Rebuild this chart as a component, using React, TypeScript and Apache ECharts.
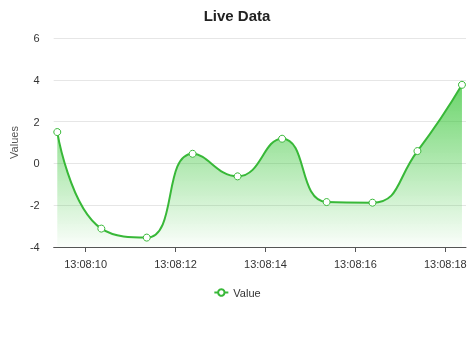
import React, { useEffect, useRef } from "react";
import * as echarts from "echarts";

// seconds after 13:08:00 for each sample
const sampleSeconds = [9.37, 10.35, 11.36, 12.38, 13.38, 14.37, 15.36, 16.38, 17.38, 18.37];
const sampleValues = [1.5, -3.12, -3.55, 0.46, -0.62, 1.18, -1.85, -1.88, 0.59, 3.76];
const xTickSeconds = [10, 12, 14, 16, 18];
const yTicks = { min: -4, max: 6, interval: 2 };
const xRangeSeconds = [9.29, 18.46];
const timePrefix = "13:08:";

export default function App() {
  const ref = useRef<HTMLDivElement>(null);
  useEffect(() => {
    if (!ref.current) return;
    const chart = echarts.init(ref.current, undefined, { renderer: "svg" });
    const data = sampleSeconds.map((s, i) => [s, sampleValues[i]]);
    const font = "'Helvetica Neue', Helvetica, Arial, 'Liberation Sans', sans-serif";
    const green = "#38b838";
    chart.setOption({
      animation: false,
      textStyle: { fontFamily: font },
      title: {
        text: "Live Data",
        left: "center",
        top: 3,
        textStyle: { fontSize: 15, fontWeight: "bold", color: "#222", fontFamily: font },
      },
      grid: { left: 51, right: 8, top: 38, bottom: 94, containLabel: false },
      legend: {
        top: 282,
        left: "center",
        itemWidth: 14,
        itemHeight: 8,
        itemGap: 6,
        textStyle: { fontSize: 11, color: "#333" },
        data: ["Value"],
      },
      xAxis: {
        type: "value",
        min: xRangeSeconds[0],
        max: xRangeSeconds[1],
        axisLine: { onZero: false, lineStyle: { color: "#555" } },
        axisTick: { customValues: xTickSeconds, lineStyle: { color: "#555" } },
        axisLabel: {
          customValues: xTickSeconds,
          formatter: (v: number) => timePrefix + String(Math.round(v)).padStart(2, "0"),
          color: "#333",
          fontSize: 11,
          margin: 11,
        },
        splitLine: { show: false },
      },
      yAxis: {
        type: "value",
        min: yTicks.min,
        max: yTicks.max,
        interval: yTicks.interval,
        name: "Values",
        nameLocation: "middle",
        nameGap: 34,
        nameTextStyle: { color: "#555", fontSize: 11 },
        axisLine: { show: false },
        axisTick: { show: false },
        axisLabel: { color: "#333", fontSize: 11, margin: 14 },
        splitLine: { lineStyle: { color: "#e6e6e6" } },
      },
      series: [
        {
          name: "Value",
          type: "line",
          smooth: true,
          data,
          symbol: "circle",
          symbolSize: 7,
          lineStyle: { color: green, width: 2 },
          itemStyle: { color: "#ffffff", borderColor: green, borderWidth: 1 },
          areaStyle: {
            origin: "start",
            color: new echarts.graphic.LinearGradient(0, 0, 0, 1, [
              { offset: 0, color: "rgba(45,195,45,1)" },
              { offset: 1, color: "rgba(45,195,45,0.03)" },
            ]),
          },
        },
      ],
    });
    return () => chart.dispose();
  }, []);
  return (
    <div
      ref={ref}
      style={{ position: "fixed", left: 0, top: 0, width: 474, height: 341 }}
    />
  );
}
